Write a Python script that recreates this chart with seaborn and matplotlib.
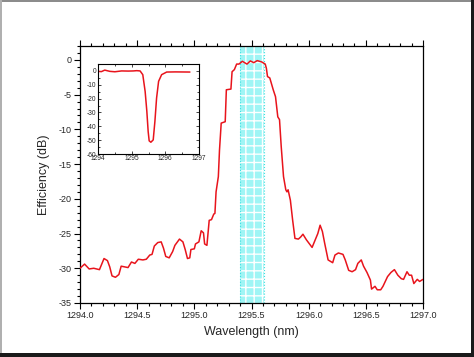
import numpy as np
import pandas as pd
import matplotlib
matplotlib.use('Agg')
import matplotlib.pyplot as plt
from matplotlib.ticker import MultipleLocator
from matplotlib.patches import Rectangle
import seaborn as sns

# main spectrum (wavelength nm, efficiency dB)
wavelength = [1294.00, 1294.04, 1294.08, 1294.12, 1294.17, 1294.21, 1294.24, 1294.26, 1294.28,
              1294.31, 1294.34, 1294.36, 1294.42, 1294.45, 1294.48, 1294.51, 1294.55, 1294.58,
              1294.61, 1294.63, 1294.65, 1294.68, 1294.71, 1294.73, 1294.75, 1294.78, 1294.81,
              1294.83, 1294.87, 1294.90, 1294.92, 1294.94, 1294.96, 1294.97, 1295.00, 1295.01,
              1295.04, 1295.06, 1295.08, 1295.09, 1295.11, 1295.13, 1295.15, 1295.17, 1295.18,
              1295.19, 1295.21, 1295.22, 1295.235, 1295.27, 1295.28, 1295.32, 1295.33, 1295.35,
              1295.37, 1295.39, 1295.42, 1295.46, 1295.49, 1295.52, 1295.55, 1295.59, 1295.62,
              1295.63, 1295.64, 1295.66, 1295.69, 1295.71, 1295.73, 1295.745, 1295.76, 1295.78,
              1295.80, 1295.81, 1295.82, 1295.84, 1295.86, 1295.88, 1295.91, 1295.93, 1295.95,
              1295.98, 1296.03, 1296.06, 1296.08, 1296.10, 1296.12, 1296.14, 1296.17, 1296.21,
              1296.23, 1296.26, 1296.30, 1296.32, 1296.35, 1296.38, 1296.41, 1296.43, 1296.46,
              1296.48, 1296.51, 1296.54, 1296.55, 1296.58, 1296.60, 1296.63, 1296.65, 1296.69,
              1296.72, 1296.75, 1296.78, 1296.81, 1296.83, 1296.86, 1296.88, 1296.90, 1296.92,
              1296.95, 1296.97, 1297.00]
efficiency = [-30.0, -29.4, -30.1, -30.0, -30.2, -28.6, -28.9, -29.8, -31.1,
              -31.3, -30.9, -29.7, -29.9, -29.1, -29.3, -28.7, -28.8, -28.7,
              -28.1, -28.0, -26.8, -26.3, -26.2, -27.1, -28.3, -28.5, -27.6,
              -26.7, -25.8, -26.2, -27.3, -28.6, -28.5, -27.3, -27.2, -26.5,
              -26.2, -24.6, -24.9, -26.5, -26.7, -23.1, -23.0, -22.2, -22.1,
              -19.0, -16.8, -13.0, -9.1, -8.9, -4.3, -4.2, -1.7, -1.4,
              -0.6, -0.6, -0.2, -0.6, -0.15, -0.4, -0.1, -0.3, -0.6,
              -1.2, -2.4, -2.6, -4.3, -5.3, -8.2, -8.6, -12.5, -16.8,
              -18.7, -19.0, -18.7, -20.2, -23.1, -25.7, -25.8, -25.5, -25.1,
              -25.9, -27.0, -25.8, -25.0, -23.8, -24.7, -26.4, -28.8, -29.2,
              -28.1, -27.8, -28.0, -28.8, -30.3, -30.5, -30.2, -29.3, -28.8,
              -29.7, -30.6, -31.7, -33.0, -32.6, -33.1, -33.1, -32.6, -31.2,
              -30.6, -30.2, -31.0, -31.5, -31.6, -30.5, -31.0, -31.0, -32.2,
              -31.6, -31.9, -31.6]

# inset: transmission dip
inset_wavelength = [1294.00, 1294.10, 1294.20, 1294.35, 1294.50, 1294.70, 1294.90, 1295.05, 1295.15,
                    1295.25, 1295.33, 1295.40, 1295.45, 1295.49, 1295.52, 1295.57, 1295.64,
                    1295.69, 1295.74, 1295.80, 1295.89, 1296.04, 1296.30, 1296.73]
inset_efficiency = [-0.3, -0.5, 0.6, -0.3, -0.6, 0.0, -0.1, 0.0, 0.2,
                    0.0, -2.7, -14.8, -29.0, -43.8, -50.5, -51.5, -49.8,
                    -36.5, -19.6, -7.5, -2.7, -0.8, -0.7, -0.8]

band_start, band_end = 1295.40, 1295.61

main_df = pd.DataFrame({'wl': wavelength, 'eff': efficiency})
inset_df = pd.DataFrame({'wl': inset_wavelength, 'eff': inset_efficiency})

sns.set_style('ticks')
plt.rcParams['font.family'] = ['Liberation Sans', 'DejaVu Sans']
plt.rcParams['axes.unicode_minus'] = False

fig = plt.figure(figsize=(4.74, 3.57), dpi=100)
ax = fig.add_axes([0.1688, 0.1513, 0.7236, 0.7198])

ax.axvspan(band_start, band_end, facecolor='#9ff5f5', edgecolor='white',
           hatch='++', linewidth=0, zorder=1)
ax.axvline(band_start, color='#40e0e0', lw=0.8, ls=':', zorder=1)
ax.axvline(band_end, color='#40e0e0', lw=0.8, ls=':', zorder=1)

sns.lineplot(data=main_df, x='wl', y='eff', ax=ax, color='#e8141c', lw=1.1,
             estimator=None, sort=False, zorder=3)

ax.set_xlim(1294.0, 1297.0)
ax.set_ylim(-35, 2)
ax.xaxis.set_major_locator(MultipleLocator(0.5))
ax.xaxis.set_minor_locator(MultipleLocator(0.1))
ax.yaxis.set_major_locator(MultipleLocator(5))
ax.yaxis.set_minor_locator(MultipleLocator(1))
ax.xaxis.set_major_formatter(plt.FormatStrFormatter('%.1f'))
ax.tick_params(which='both', direction='out', top=True, right=False, labelsize=6.5,
               color='black', width=0.8, pad=2)
ax.tick_params(which='major', length=4)
ax.tick_params(which='minor', length=2)
for s in ax.spines.values():
    s.set_linewidth(0.9)
    s.set_color('black')
ax.set_xlabel('Wavelength (nm)', fontsize=9, labelpad=4)
ax.set_ylabel('Efficiency (dB)', fontsize=9, labelpad=6)

# inset
axi = fig.add_axes([0.2068, 0.5686, 0.2130, 0.2521])
sns.lineplot(data=inset_df, x='wl', y='eff', ax=axi, color='#e8141c', lw=1.1,
             estimator=None, sort=False)
axi.set_xlim(1294, 1297)
axi.set_ylim(-60, 5)
axi.xaxis.set_major_locator(MultipleLocator(1))
axi.xaxis.set_minor_locator(MultipleLocator(0.5))
axi.yaxis.set_major_locator(MultipleLocator(10))
axi.yaxis.set_minor_locator(MultipleLocator(5))
axi.tick_params(which='both', direction='in', top=True, right=True, labelsize=4.8,
                width=0.6, pad=1)
axi.tick_params(which='major', length=2.5)
axi.tick_params(which='minor', length=1.5)
for s in axi.spines.values():
    s.set_linewidth(0.8)
    s.set_color('black')
axi.set_xlabel('')
axi.set_ylabel('')

# picture frame
fig.add_artist(Rectangle((0, 0.993), 1, 0.007, transform=fig.transFigure, color='#8c8c8c', lw=0))
fig.add_artist(Rectangle((0, 0), 0.005, 1, transform=fig.transFigure, color='#b0b0b0', lw=0))
fig.add_artist(Rectangle((0.994, 0), 0.006, 1, transform=fig.transFigure, color='#1a1a1a', lw=0))
fig.add_artist(Rectangle((0, 0), 1, 0.012, transform=fig.transFigure, color='#1a1a1a', lw=0))

fig.savefig('out.png', dpi=100)
